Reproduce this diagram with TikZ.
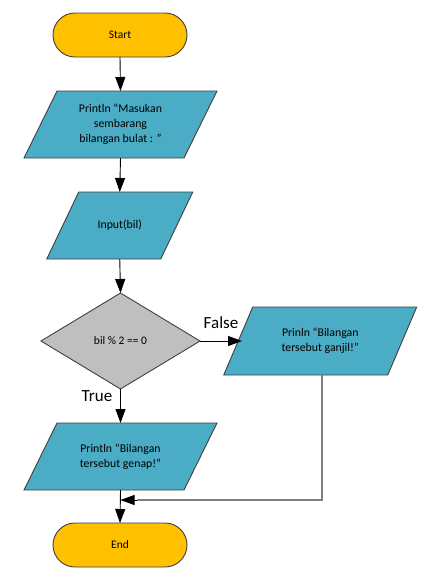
\documentclass[tikz,border=0pt]{standalone}
\usepackage{fontspec}
\setmainfont{Carlito}
\usetikzlibrary{shapes.geometric,arrows.meta}
\definecolor{termfill}{HTML}{FFC000}
\definecolor{iofill}{HTML}{4BACC6}
\definecolor{decfill}{HTML}{BFBFBF}
\definecolor{edgecol}{HTML}{404040}
\definecolor{joincol}{HTML}{7F7F7F}
\tikzset{
  term/.style={draw=edgecol, fill=termfill, line width=0.9pt, rectangle, rounded corners=22pt,
    minimum width=134pt, minimum height=44pt, inner sep=0pt, outer sep=0pt, font=\fontsize{11.5}{14}\selectfont},
  iopoly/.style={draw=edgecol, fill=iofill, line width=0.9pt},
  iotxt/.style={align=center, inner sep=0pt, outer sep=0pt, font=\fontsize{11.8}{15}\selectfont},
  decision/.style={draw=edgecol, fill=decfill, line width=0.9pt, diamond, minimum width=159pt,
    minimum height=96pt, inner sep=0pt, outer sep=0pt, font=\fontsize{11.5}{14}\selectfont},
  flow/.style={draw=black, line width=0.9pt, -{Triangle[length=14pt,width=10pt]}},
  joinline/.style={draw=joincol, line width=1.2pt},
  lbl/.style={font=\fontsize{17}{20}\selectfont, inner sep=0pt},
}
% #1 name, #2 cx, #3 cy, #4 half top length, #5 half skew, #6 half height, #7 text
\newcommand{\parabox}[7]{%
  \filldraw[iopoly] ({#2-#4+#5},{#3-#6}) -- ({#2+#4+#5},{#3-#6}) -- ({#2+#4-#5},{#3+#6}) -- ({#2-#4-#5},{#3+#6}) -- cycle;
  \node[iotxt, minimum height={2*#6 pt}] (#1) at (#2,#3) {#7};
}
\begin{document}
\begin{tikzpicture}[x=1pt,y=-1pt]
\useasboundingbox[fill=white] (0,0) rectangle (427,584);
\node[term] (start) at (120,35) {Start};
\parabox{p1}{120.5}{124.5}{80}{16.5}{33.5}{Println “Masukan\\sembarang\\bilangan bulat : ”}
\parabox{inp}{119.75}{225.5}{57}{16}{33.5}{Input(bil)}
\node[decision] (dec) at (120.5,341) {bil \% 2 == 0};
\parabox{ganjil}{320.25}{341}{82}{14.5}{34}{Prinln “Bilangan\\tersebut ganjil!”}
\parabox{genap}{120.5}{456.5}{80}{16.5}{33.5}{Println “Bilangan\\tersebut genap!”}
\node[term] (end) at (120,545) {End};
\coordinate (gwest) at (242,341);
\coordinate (gbottom) at (322,375);
\coordinate (jcorner) at (322,500);
\coordinate (jtip) at (137,500);
\coordinate (jpoint) at (120.5,500);
\draw[flow] (start.south) -- (p1.north);
\draw[flow] (p1.south) -- (inp.north);
\draw[flow] (inp.south) -- (dec.north);
\draw[flow] (dec.east) -- (gwest);
\draw[flow] (dec.south) -- (genap.north);
\draw[flow] (genap.south) -- (end.north);
\draw[joinline] (gbottom) -- (jcorner) -- (jtip);
\draw[flow] (jtip) -- (jpoint);
\node[lbl] (flbl) at (221,323) {False};
\node[lbl] (tlbl) at (97,396) {True};
\end{tikzpicture}
\end{document}
